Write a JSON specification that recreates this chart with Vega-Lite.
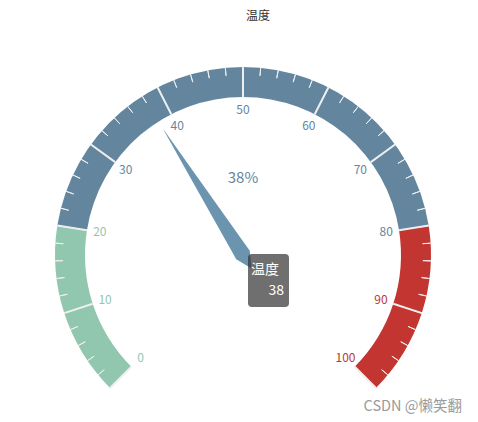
{
  "$schema": "https://vega.github.io/schema/vega-lite/v6.json",
  "width": 470,
  "height": 334,
  "autosize": "none",
  "padding": {"left": 8, "top": 88, "right": 0, "bottom": 0},
  "background": "white",
  "title": {"text": "温度", "fontSize": 12, "fontWeight": "normal", "color": "#333333", "anchor": "middle", "frame": "group", "baseline": "bottom", "offset": 28, "dx": 15},
  "config": {"view": {"stroke": null}, "font": "Noto Sans CJK SC"},
  "datasets": {
    "segments": [{"from": 0, "to": 20}, {"from": 20, "to": 80}, {"from": 80, "to": 100}],
    "minor": [{"v": 0}, {"v": 2}, {"v": 4}, {"v": 6}, {"v": 8}, {"v": 10}, {"v": 12}, {"v": 14}, {"v": 16}, {"v": 18}, {"v": 20}, {"v": 22}, {"v": 24}, {"v": 26}, {"v": 28}, {"v": 30}, {"v": 32}, {"v": 34}, {"v": 36}, {"v": 38}, {"v": 40}, {"v": 42}, {"v": 44}, {"v": 46}, {"v": 48}, {"v": 50}, {"v": 52}, {"v": 54}, {"v": 56}, {"v": 58}, {"v": 60}, {"v": 62}, {"v": 64}, {"v": 66}, {"v": 68}, {"v": 70}, {"v": 72}, {"v": 74}, {"v": 76}, {"v": 78}, {"v": 80}, {"v": 82}, {"v": 84}, {"v": 86}, {"v": 88}, {"v": 90}, {"v": 92}, {"v": 94}, {"v": 96}, {"v": 98}, {"v": 100}],
    "major": [{"v": 0}, {"v": 10}, {"v": 20}, {"v": 30}, {"v": 40}, {"v": 50}, {"v": 60}, {"v": 70}, {"v": 80}, {"v": 90}, {"v": 100}],
    "reading": [{"name": "温度", "value": 38}]
  },
  "layer": [
    {
      "data": {"name": "segments"},
      "mark": {"type": "arc", "radius": 188, "radius2": 158},
      "encoding": {
        "theta": {"field": "from", "type": "quantitative", "stack": null, "scale": {"domain": [0, 100], "range": [-2.35619449, 2.35619449]}},
        "theta2": {"field": "to"},
        "color": {"field": "to", "type": "quantitative", "scale": {"type": "threshold", "domain": [20.5, 80.5], "range": ["#91c7ae", "#63869e", "#c23531"]}, "legend": null}
      }
    },
    {
      "data": {"name": "minor"},
      "mark": {"type": "arc", "radius": 188, "radius2": 180, "fillOpacity": 0, "stroke": "#eeeeee", "strokeWidth": 1},
      "encoding": {
        "theta": {"field": "v", "type": "quantitative", "stack": null},
        "theta2": {"field": "v"}
      }
    },
    {
      "data": {"name": "major"},
      "mark": {"type": "arc", "radius": 188, "radius2": 158, "fillOpacity": 0, "stroke": "#eeeeee", "strokeWidth": 2},
      "encoding": {
        "theta": {"field": "v", "type": "quantitative", "stack": null},
        "theta2": {"field": "v"}
      }
    },
    {
      "data": {"name": "major"},
      "mark": {"type": "text", "radius": 145, "fontSize": 12, "align": "center", "baseline": "middle"},
      "encoding": {
        "theta": {"field": "v", "type": "quantitative", "stack": null},
        "text": {"field": "v", "type": "quantitative"},
        "color": {"field": "v", "type": "quantitative", "scale": {"type": "threshold", "domain": [20.5, 80.5], "range": ["#91c7ae", "#63869e", "#c23531"]}, "legend": null}
      }
    },
    {
      "data": {"name": "reading"},
      "transform": [{"calculate": "datum.value + '%'", "as": "label"}],
      "mark": {"type": "text", "fontSize": 15, "color": "#63869e", "align": "center", "baseline": "middle", "dy": -77},
      "encoding": {"text": {"field": "label", "type": "nominal"}}
    },
    {
      "data": {"name": "reading"},
      "mark": {"type": "point", "filled": true, "opacity": 1, "fill": "#6b94af", "strokeWidth": 0, "size": 90000, "shape": "M0,-1L0.0533,0L0,0.1067L-0.0533,0Z"},
      "encoding": {
        "angle": {"field": "value", "type": "quantitative", "scale": {"domain": [0, 100], "range": [-135, 135]}}
      }
    },
    {
      "data": {"name": "reading"},
      "mark": {"type": "point", "filled": true, "opacity": 1, "fill": "rgba(50,50,50,0.7)", "strokeWidth": 0, "size": 4, "shape": "M9,-1H42Q46,-1 46,3V48Q46,52 42,52H9Q5,52 5,48V3Q5,-1 9,-1Z"}
    },
    {
      "data": {"name": "reading"},
      "mark": {"type": "text", "fontSize": 14, "color": "white", "align": "left", "baseline": "middle", "dx": 8, "dy": 15},
      "encoding": {"text": {"field": "name", "type": "nominal"}}
    },
    {
      "data": {"name": "reading"},
      "mark": {"type": "text", "fontSize": 14, "color": "white", "align": "right", "baseline": "middle", "dx": 41, "dy": 36},
      "encoding": {"text": {"field": "value", "type": "quantitative"}}
    },
    {
      "data": {"values": [{"mark": "CSDN @懒笑翻"}]},
      "mark": {"type": "text", "fontSize": 14.5, "color": "#9a9a9a", "align": "right", "baseline": "middle", "dx": -16, "dy": -15},
      "encoding": {
        "x": {"value": "width"},
        "y": {"value": "height"},
        "text": {"field": "mark", "type": "nominal"}
      }
    }
  ]
}
